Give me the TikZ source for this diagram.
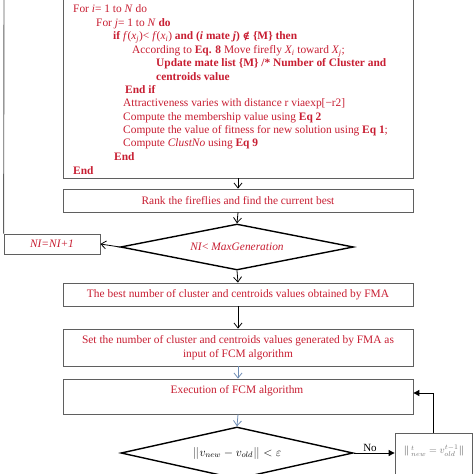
\documentclass[tikz,border=0pt]{standalone}
\usepackage{amsmath}
\usepackage{bm}
\usepackage{fontspec}
\setmainfont{Liberation Serif}
\newfontfamily\djvfont{DejaVu Serif}
\usetikzlibrary{shapes.geometric,arrows.meta}
\definecolor{tred}{RGB}{200,30,50}
\definecolor{bgray}{RGB}{95,95,95}
\definecolor{ablue}{RGB}{110,140,180}
\definecolor{fgray}{RGB}{120,120,120}
\begin{document}
\begin{tikzpicture}[x=1pt,y=-1pt,
  box/.style={draw=bgray,line width=0.8pt,rectangle,inner sep=0pt,text=tred,font=\fontsize{11.4}{14}\selectfont},
  dia/.style={draw=black,line width=1.4pt,diamond,inner sep=0pt,aspect=5},
  ln/.style={anchor=base west,inner sep=0pt,text=tred,font=\fontsize{11.4}{12}\selectfont},
  arr/.style={-{Straight Barb[length=5pt,width=8pt]},line width=0.8pt,black},
  barr/.style={-{Straight Barb[length=5pt,width=8pt]},line width=0.8pt,ablue},
  farr/.style={-{Triangle[length=6pt,width=6pt]},line width=0.9pt,black}]
\useasboundingbox (0,0) rectangle (474,474);
\clip (0,0) rectangle (474,474);
\fill[white] (0,0) rectangle (474,474);
% boxes
\node[box,minimum width=350pt,minimum height=190pt] (loop) at (238,83) {};
\node[ln] (l1) at (73,12.5) {For \textit{i}= 1 to \textit{N} do};
\node[ln] (l2) at (96,26.5) {For \textit{j}= 1 to \textit{N} \textbf{do}};
\node[ln] (l3) at (113,39.5) {\textbf{if} \textit{f}(\textit{x}\textsubscript{\textit{j}})< \textit{f}(\textit{x}\textsubscript{\textit{i}}) \textbf{and (\textit{i} mate \textit{j})} {\djvfont\bfseries\fontsize{10}{12}\selectfont ∉} \textbf{\{M\} then}};
\node[ln] (l4) at (132,53.5) {According to \textbf{Eq. 8} Move firefly \textit{X\textsubscript{i}} toward \textit{X\textsubscript{j}};};
\node[ln] (l5) at (156,66.5) {\textbf{Update mate list \{M\} /* Number of Cluster and}};
\node[ln] (l6) at (156,80.5) {\textbf{centroids value}};
\node[ln] (l7) at (125,93.5) {\textbf{End if}};
\node[ln] (l8) at (123,106.5) {Attractiveness varies with distance r viaexp[−r2]};
\node[ln] (l9) at (123,120) {Compute the membership value using \textbf{Eq 2}};
\node[ln] (l10) at (123,133.5) {Compute the value of fitness for new solution using \textbf{Eq 1};};
\node[ln] (l11) at (123,146.5) {Compute \textit{ClustNo} using \textbf{Eq 9}};
\node[ln] (l12) at (114,160) {\textbf{End}};
\node[ln] (l13) at (73,174) {\textbf{End}};
\node[box,minimum width=350pt,minimum height=23pt] (rank) at (238,200.5) {Rank the fireflies and find the current best};
\node[dia,minimum width=233pt,minimum height=46pt,text=tred,font=\fontsize{11.4}{12}\selectfont] (d1) at (237,247) {\textit{NI}< \textit{MaxGeneration}};
\node[box,minimum width=96pt,minimum height=20pt] (ni) at (52,244) {\textit{NI=NI+1}};
\node[box,minimum width=350pt,minimum height=23pt] (best) at (238,294.5) {The best number of cluster and centroids values obtained by FMA};
\node[box,minimum width=350pt,minimum height=37pt,align=center] (set) at (238,347.5) {Set the number of cluster and centroids values generated by FMA as\\input of FCM algorithm};
\node[box,minimum width=350pt,minimum height=35pt] (exec) at (238,396.5) {};
\node[text=tred,font=\fontsize{11.4}{12}\selectfont,inner sep=0pt] (exect) at (237,391) {Execution of FCM algorithm};
\node[dia,minimum width=232pt,minimum height=52pt,font=\fontsize{12}{14}\selectfont] (d2) at (237,453) {$\textcolor{fgray}{\bm{\|}}v_{new}-v_{old}\textcolor{fgray}{\bm{\|}}<\varepsilon$};
\node[box,minimum width=77pt,minimum height=52pt] (small) at (433.5,459) {};
\node[text=fgray,font=\fontsize{10}{12}\selectfont,inner sep=0pt] (smallt) at (434,451) {$\bm{\|}\,{}^{t}_{new}=v^{t-1}_{old}\bm{\|}$};
% connectors
\coordinate (ltop) at (4,-5);
\draw[bgray,line width=0.9pt] (ni.north west) -- (ltop);
\draw[arr] (loop.south) -- (rank.north);
\draw[arr] (rank.south) -- (d1.north);
\draw[arr] (d1.west) -- (ni.east);
\draw[arr] (d1.south) -- (best.north);
\draw[arr] (best.south) -- (set.north);
\draw[barr] (set.south) -- (exec.north);
\draw[barr] (exec.south) -- (d2.north);
\draw[farr] (d2.east) -- (d2.east -| small.west);
\node[anchor=base,inner sep=0pt,font=\fontsize{11}{12}\selectfont] (no) at (370,451) {No};
\draw[farr] (small.north) |- ([yshift=3.5pt]exec.east);
\end{tikzpicture}
\end{document}
